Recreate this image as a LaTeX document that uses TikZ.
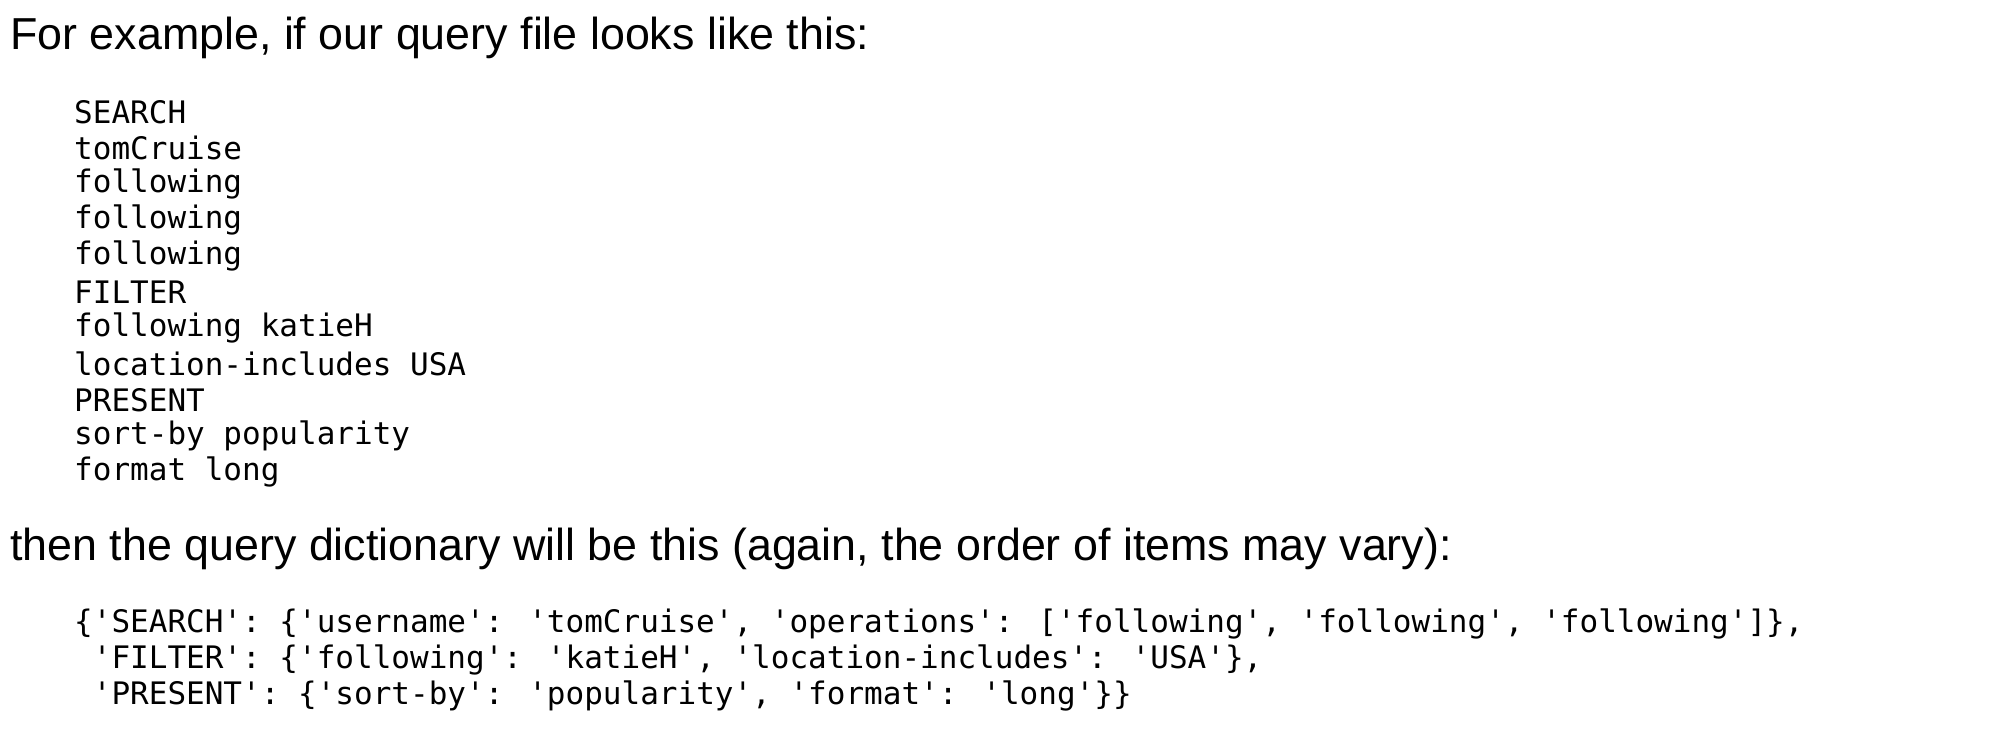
\documentclass[tikz,border=0pt]{standalone}
\usepackage{fontspec}
\setmainfont{Liberation Sans}
\newfontfamily\monof{DejaVu Sans Mono}
\begin{document}
\begin{tikzpicture}[x=1pt,y=-1pt,
  prose/.style={anchor=west,inner sep=0pt,font=\fontsize{44.8}{50}\selectfont},
  code/.style={anchor=west,inner sep=0pt,font=\monof\fontsize{31}{36}\selectfont}]
\useasboundingbox (0,0) rectangle (2012,742);
\node[prose] (h1) at (10,38) {For example, if our query file looks like this:};
\foreach \t [count=\i] in {SEARCH,tomCruise,following,following,following,FILTER,following katieH,location-includes USA,PRESENT,sort-by popularity,format long}
  \node[code] (q\i) at (74,{112+36*(\i-1)}) {\t};
\node[prose] (h2) at (10,549) {then the query dictionary will be this (again, the order of items may vary):};
\node[code] (d1) at (74,624) {\{'SEARCH': \{'username': 'tomCruise', 'operations': ['following', 'following', 'following']\},};
\node[code] (d2) at (74,660) {\ 'FILTER': \{'following': 'katieH', 'location-includes': 'USA'\},};
\node[code] (d3) at (74,696) {\ 'PRESENT': \{'sort-by': 'popularity', 'format': 'long'\}\}};
\end{tikzpicture}
\end{document}
